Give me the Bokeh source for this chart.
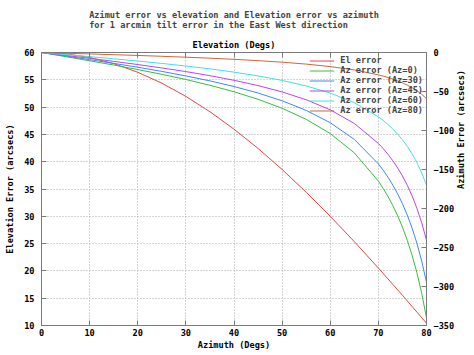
from bokeh.plotting import figure
from bokeh.models import Range1d, LinearAxis, FixedTicker, Legend, LegendItem
from bokeh.embed import file_html
from bokeh.resources import INLINE
import math

# ---- data ----
azimuth = [0, 5, 10, 15, 20, 25, 30, 35, 40, 45, 50, 55, 60, 65, 70, 75, 80]
el_error = [60.00, 59.77, 59.09, 57.96, 56.38, 54.38, 51.96, 49.15, 45.96, 42.43,
            38.57, 34.41, 30.00, 25.36, 20.52, 15.53, 10.42]

elevation = [0, 5, 10, 15, 20, 25, 30, 35, 40, 45, 50, 55, 60, 65,
             70, 71, 72, 73, 74, 75, 76, 77, 78, 79, 80]
az_err_0 = [0, -5.25, -10.58, -16.08, -21.84, -27.98, -34.64, -42.01, -50.35, -60.00,
            -71.51, -85.69, -103.92, -128.67, -164.85, -174.25, -184.66, -196.25,
            -209.24, -223.92, -240.65, -259.89, -282.28, -308.68, -340.28]
az_err_30 = [0, -4.55, -9.16, -13.92, -18.91, -24.23, -30.00, -36.38, -43.60, -51.96,
             -61.93, -74.21, -90.00, -111.43, -142.77, -150.91, -159.92, -169.96,
             -181.21, -193.92, -208.41, -225.07, -244.46, -267.32, -294.69]
az_err_45 = [0, -3.71, -7.48, -11.37, -15.44, -19.78, -24.49, -29.71, -35.60, -42.43,
             -50.56, -60.59, -73.48, -90.98, -116.57, -123.21, -130.57, -138.77,
             -147.95, -158.33, -170.17, -183.77, -199.60, -218.27, -240.61]
az_err_60 = [0, -2.63, -5.29, -8.04, -10.92, -13.99, -17.32, -21.01, -25.18, -30.00,
             -35.76, -42.85, -51.96, -64.34, -82.43, -87.13, -92.33, -98.13,
             -104.62, -111.96, -120.33, -129.95, -141.14, -154.34, -170.14]
az_err_80 = [0, -0.91, -1.84, -2.79, -3.79, -4.86, -6.02, -7.29, -8.74, -10.42,
             -12.42, -14.88, -18.05, -22.34, -28.63, -30.26, -32.07, -34.08,
             -36.33, -38.88, -41.79, -45.13, -49.02, -53.60, -59.09]

series_labels = ["El error", "Az error (Az=0)", "Az error (Az=30)",
                 "Az error (Az=45)", "Az error (Az=60)", "Az error (Az=80)"]
colors = ["#e04a4a", "#3cbc3c", "#3a8ce6", "#b848e0", "#44e0e4", "#c8683c"]

x_ticks = [0, 10, 20, 30, 40, 50, 60, 70, 80]
left_ticks = [10, 15, 20, 25, 30, 35, 40, 45, 50, 55, 60]
right_ticks = [0, -50, -100, -150, -200, -250, -300, -350]

FONT = "DejaVu Sans Mono"
FS = "8.6px"

p = figure(width=474, height=355, x_range=Range1d(0, 80), y_range=Range1d(10, 60),
           output_backend="svg", toolbar_location=None,
           min_border_left=41, min_border_right=47, min_border_top=52, min_border_bottom=30)
p.extra_x_ranges = {"el": Range1d(0, 80)}
p.extra_y_ranges = {"az": Range1d(-350, 0)}

p.title.text = ("Azimut error vs elevation and Elevation error vs azimuth\n"
                "for 1 arcmin tilt error in the East West direction")
p.title.align = "center"
p.title.text_font = FONT
p.title.text_font_size = FS
p.title.text_font_style = "bold"
p.title.standoff = 14

AXC = "#7a7a7a"

def style_axis(ax):
    ax.axis_line_color = AXC
    ax.major_tick_line_color = AXC
    ax.major_tick_in = 5
    ax.major_tick_out = 0
    ax.minor_tick_line_color = None
    ax.major_label_text_font = FONT
    ax.major_label_text_font_size = FS
    ax.major_label_text_font_style = "bold"
    ax.major_label_text_color = "black"
    ax.axis_label_text_font = FONT
    ax.axis_label_text_font_size = FS
    ax.axis_label_text_font_style = "bold"
    ax.axis_label_text_color = "black"

xb = p.xaxis[0]
xb.ticker = FixedTicker(ticks=x_ticks)
xb.axis_label = "Azimuth (Degs)"
xb.major_label_standoff = 3
xb.axis_label_standoff = 1
style_axis(xb)

yl = p.yaxis[0]
yl.ticker = FixedTicker(ticks=left_ticks)
yl.axis_label = "Elevation Error (arcsecs)"
yl.major_label_standoff = 7
yl.axis_label_standoff = 6
style_axis(yl)

xt = LinearAxis(x_range_name="el", ticker=FixedTicker(ticks=x_ticks),
                axis_label="Elevation (Degs)")
style_axis(xt)
xt.major_label_text_font_size = "1px"
xt.major_label_text_color = None
xt.major_label_standoff = 0
xt.axis_label_standoff = 3
p.add_layout(xt, "above")

yr = LinearAxis(y_range_name="az", ticker=FixedTicker(ticks=right_ticks),
                axis_label="Azimuth Error (arcsecs)")
style_axis(yr)
yr.major_label_standoff = 7
yr.axis_label_standoff = 4
try:
    yr.axis_label_orientation = math.pi / 2
except Exception:
    pass
p.add_layout(yr, "right")

p.outline_line_color = AXC
p.xgrid.ticker = FixedTicker(ticks=x_ticks[1:-1])
p.ygrid.ticker = FixedTicker(ticks=left_ticks[1:-1])
for g in (p.xgrid[0], p.ygrid[0]):
    g.grid_line_color = "#a8a8a8"
    g.grid_line_dash = "1 2"
    g.grid_line_width = 1

r_el = p.line(azimuth, el_error, line_color=colors[0], line_width=1)
r0 = p.line(elevation, az_err_0, x_range_name="el", y_range_name="az", line_color=colors[1], line_width=1)
r30 = p.line(elevation, az_err_30, x_range_name="el", y_range_name="az", line_color=colors[2], line_width=1)
r45 = p.line(elevation, az_err_45, x_range_name="el", y_range_name="az", line_color=colors[3], line_width=1)
r60 = p.line(elevation, az_err_60, x_range_name="el", y_range_name="az", line_color=colors[4], line_width=1)
r80 = p.line(elevation, az_err_80, x_range_name="el", y_range_name="az", line_color=colors[5], line_width=1)

renderers = [r_el, r0, r30, r45, r60, r80]
legend = Legend(items=[LegendItem(label=l, renderers=[r]) for l, r in zip(series_labels, renderers)],
                location="top_right", orientation="vertical")
legend.glyph_width = 25
legend.glyph_height = 9
legend.label_height = 9
legend.label_standoff = 6
legend.spacing = 0
legend.padding = 2
legend.margin = 3
legend.label_text_font = FONT
legend.label_text_font_size = FS
legend.label_text_font_style = "bold"
legend.background_fill_alpha = 0
legend.border_line_color = None
p.add_layout(legend)

open("out.html", "w").write(file_html(p, INLINE))
